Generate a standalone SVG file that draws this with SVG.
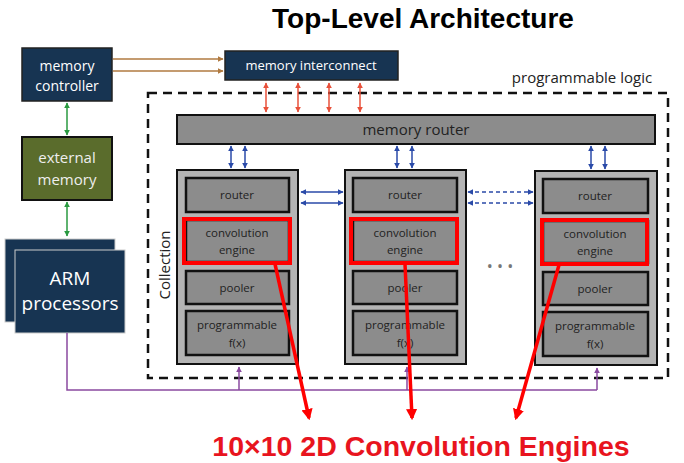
<svg xmlns="http://www.w3.org/2000/svg" width="684" height="463" viewBox="0 0 684 463">
<defs>
<style>
.t{font-family:"Open Sans","Liberation Sans",sans-serif;text-anchor:middle}
.w{fill:#fff}
.k{fill:#222;font-size:11.5px}
.col{fill:#b4b4b4;stroke:#111;stroke-width:2}
.in{fill:#8c8c8c;stroke:#111;stroke-width:2.5}
.red{fill:none;stroke:#f00;stroke-width:4}
</style>
<marker id="ab" viewBox="0 0 10 10" refX="9" refY="5" markerWidth="4" markerHeight="4" orient="auto-start-reverse"><path d="M0,0L10,5L0,10z" fill="#b07a40"/></marker>
<marker id="ar" viewBox="0 0 10 10" refX="9" refY="5" markerWidth="4" markerHeight="4" orient="auto-start-reverse"><path d="M0,0L10,5L0,10z" fill="#e8503a"/></marker>
<marker id="ag" viewBox="0 0 10 10" refX="9" refY="5" markerWidth="4" markerHeight="4" orient="auto-start-reverse"><path d="M0,0L10,5L0,10z" fill="#2a9a40"/></marker>
<marker id="au" viewBox="0 0 10 10" refX="9" refY="5" markerWidth="4" markerHeight="4" orient="auto-start-reverse"><path d="M0,0L10,5L0,10z" fill="#2a4aa8"/></marker>
<marker id="ap" viewBox="0 0 10 10" refX="9" refY="5" markerWidth="4" markerHeight="4" orient="auto-start-reverse"><path d="M0,0L10,5L0,10z" fill="#8a4aa0"/></marker>
<marker id="aR" viewBox="0 0 10 10" refX="8" refY="5" markerWidth="3.2" markerHeight="3.2" orient="auto"><path d="M0,0L10,5L0,10z" fill="#f00"/></marker>
</defs>
<text class="t" x="423" y="28" style="font-family:'Liberation Sans',sans-serif;font-weight:bold;font-size:28px" fill="#000">Top-Level Architecture</text>
<text class="t" x="582" y="83" style="font-size:15px" fill="#222">programmable logic</text>
<rect x="148" y="93" width="520" height="285" fill="none" stroke="#111" stroke-width="2.5" stroke-dasharray="9,6"/>
<g id="memctrl"><rect x="22" y="48" width="90" height="53" fill="#173452" stroke="#222" stroke-width="1.5"/><text class="t w" x="67" y="71" font-size="14">memory</text><text class="t w" x="67" y="91" font-size="14">controller</text></g>
<g id="meminter"><rect x="225" y="51" width="173" height="29" fill="#173452" stroke="#222" stroke-width="1.5"/><text class="t w" x="311" y="70" font-size="13">memory interconnect</text></g>
<g id="extmem"><rect x="22" y="137" width="90" height="63" fill="#5a6c2c" stroke="#111" stroke-width="2"/><text class="t" x="67" y="163" font-size="15" fill="#eee">external</text><text class="t" x="67" y="185" font-size="15" fill="#eee">memory</text></g>
<g id="arm"><rect x="5" y="239" width="110" height="83" fill="#173452" stroke="#ccc"/><rect x="15" y="250" width="110" height="83" fill="#173452" stroke="#ccc"/><text class="t w" x="70" y="285" font-size="19">ARM</text><text class="t w" x="70" y="310" font-size="19">processors</text></g>
<g id="memrouter"><rect x="177" y="115" width="478" height="29" fill="#8c8c8c" stroke="#111" stroke-width="2"/><text class="t" x="416" y="135" font-size="15" fill="#222">memory router</text></g>
<g id="col1"><rect class="col" x="177" y="170" width="121" height="194"/>
<rect class="in" x="186" y="178" width="103" height="34"/><text class="t k" x="237" y="199">router</text>
<rect class="in" x="186" y="220" width="103" height="42"/><text class="t k" x="237" y="237">convolution</text><text class="t k" x="237" y="254">engine</text>
<rect class="in" x="186" y="271" width="103" height="33"/><text class="t k" x="237" y="292">pooler</text>
<rect class="in" x="186" y="311" width="103" height="44"/><text class="t k" x="237" y="329">programmable</text><text class="t k" x="237" y="347">f(x)</text>
<rect class="red" x="184" y="219" width="106" height="44"/></g>
<g id="col2"><rect class="col" x="345" y="170" width="121" height="194"/>
<rect class="in" x="353" y="178" width="104" height="34"/><text class="t k" x="405" y="199">router</text>
<rect class="in" x="353" y="220" width="104" height="42"/><text class="t k" x="405" y="237">convolution</text><text class="t k" x="405" y="254">engine</text>
<rect class="in" x="353" y="271" width="104" height="33"/><text class="t k" x="405" y="292">pooler</text>
<rect class="in" x="353" y="311" width="104" height="44"/><text class="t k" x="405" y="329">programmable</text><text class="t k" x="405" y="347">f(x)</text>
<rect class="red" x="351" y="219" width="106" height="44"/></g>
<g id="col3"><rect class="col" x="535" y="171" width="122" height="194"/>
<rect class="in" x="543" y="179" width="105" height="34"/><text class="t k" x="595" y="200">router</text>
<rect class="in" x="543" y="221" width="105" height="42"/><text class="t k" x="595" y="238">convolution</text><text class="t k" x="595" y="255">engine</text>
<rect class="in" x="543" y="272" width="105" height="33"/><text class="t k" x="595" y="293">pooler</text>
<rect class="in" x="543" y="312" width="105" height="44"/><text class="t k" x="595" y="330">programmable</text><text class="t k" x="595" y="348">f(x)</text>
<rect class="red" x="542" y="220" width="105" height="44"/></g>
<text x="170" y="265" transform="rotate(-90 170 265)" class="t" font-size="15" fill="#222">Collection</text>
<text x="500" y="272" class="t" font-size="16" fill="#777">• • •</text>
<g id="connectors" fill="none" stroke-width="1.5">
<g stroke="#b07a40" marker-end="url(#ab)"><path d="M113 59H223"/><path d="M113 71H223"/></g>
<g stroke="#e8503a" marker-start="url(#ar)" marker-end="url(#ar)"><path d="M266 83V112"/><path d="M298 83V112"/><path d="M329 83V112"/><path d="M360 83V112"/></g>
<g stroke="#2a9a40" marker-start="url(#ag)" marker-end="url(#ag)"><path d="M67 103V135"/><path d="M67 202V236"/></g>
<g stroke="#2a4aa8" marker-start="url(#au)" marker-end="url(#au)"><path d="M231 146V168"/><path d="M245 146V168"/><path d="M397 146V168"/><path d="M412 146V168"/><path d="M591 146V169"/><path d="M605 146V169"/>
<path d="M301 192H343"/><path d="M301 203H343"/><path d="M468 192H533" stroke-dasharray="4,3"/><path d="M468 203H533" stroke-dasharray="4,3"/></g>
<path d="M67 333V390H597" stroke="#8a4aa0"/>
<g stroke="#8a4aa0" marker-end="url(#ap)"><path d="M239 390V367"/><path d="M407 390V367"/><path d="M597 390V368"/></g>
<g stroke="#f00" stroke-width="3.5" marker-end="url(#aR)"><path d="M275 264L309 418"/><path d="M405 264L412 418"/><path d="M559 265L516 418"/></g>
</g>
<text class="t" x="421" y="456" style="font-family:'Liberation Sans',sans-serif;font-weight:bold;font-size:28.5px" fill="#e8141e">10×10 2D Convolution Engines</text>
</svg>
